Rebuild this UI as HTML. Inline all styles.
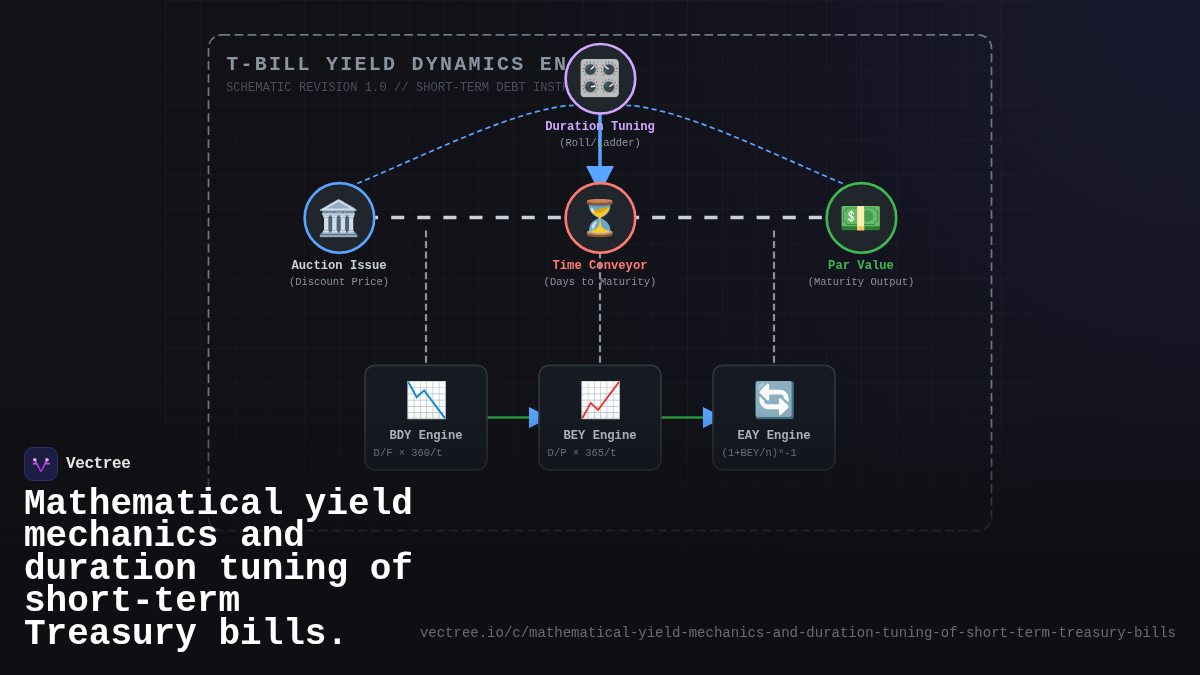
<!DOCTYPE html>
<html><head><meta charset="utf-8">
<style>
html,body{margin:0;padding:0}
body{width:1200px;height:675px;overflow:hidden;position:relative;background:#111116;font-family:"Liberation Mono",monospace}
#glow{position:absolute;inset:0;background:radial-gradient(circle 1100px at 1200px 0px,rgba(80,88,240,0.1000) 0px,rgba(80,88,240,0.0956) 100px,rgba(80,88,240,0.0834) 200px,rgba(80,88,240,0.0665) 300px,rgba(80,88,240,0.0485) 400px,rgba(80,88,240,0.0322) 500px,rgba(80,88,240,0.0196) 600px,rgba(80,88,240,0.0109) 700px,rgba(80,88,240,0.0055) 800px,rgba(80,88,240,0.0026) 900px,rgba(80,88,240,0.0011) 1000px,rgba(80,88,240,0.0004) 1100px)}
#ov{position:absolute;inset:0;background:linear-gradient(to bottom,rgba(15,15,19,0) 410px,rgba(15,15,19,1) 560px)}
#dg{position:absolute;left:165px;top:0;width:1000px;height:650px;transform:scale(0.87);transform-origin:0 0;
 background-image:linear-gradient(to right,rgba(139,148,158,0.05) 1px,transparent 1px),linear-gradient(to bottom,rgba(139,148,158,0.05) 1px,transparent 1px);
 background-size:40px 40px}
#dg svg{position:absolute;left:0;top:0}
.t{position:absolute;white-space:nowrap}
#dg,#title,#brand,#url{will-change:opacity}
.ttl{left:70.35px;top:61.45px;font-size:23px;font-weight:bold;letter-spacing:2.58px;color:#8b949e}
.sub{left:70px;top:92.8px;font-size:14px;color:#484f58}
.node{position:absolute;width:77px;height:77px;border-radius:50%;background:#21262d;border:3px solid;box-sizing:content-box;margin:-41.5px 0 0 -41.5px;display:flex;align-items:center;justify-content:center;font-size:40px;line-height:1}
.node .em{position:relative;top:3.8px}
.lbl{position:absolute;width:300px;margin-left:-150px;text-align:center;font-size:14px;font-weight:bold}
.sl{position:absolute;width:300px;margin-left:-150px;text-align:center;font-size:12px;color:#8b949e}
.box{position:absolute;top:419px;width:138px;height:118px;border:2px solid #30363d;border-radius:12px;background:#161b22}
.box .e{position:absolute;left:1.5px;right:0;top:23px;text-align:center;font-size:40px;line-height:1}
.box .n{position:absolute;left:0;right:0;top:72.1px;text-align:center;font-size:14px;font-weight:bold;color:#c9d1d9}
.box .f{position:absolute;left:8.8px;top:92.7px;font-size:12px;color:#8b949e}
#logo{position:absolute;left:24px;top:447px;width:32px;height:32px;border-radius:9px;background:#1e1e44;border:1px solid #2f2d72}
#brand{position:absolute;left:66px;top:455.3px;font-size:16px;letter-spacing:-0.4px;font-weight:bold;color:#e6e6e6}
#title{position:absolute;left:24px;top:489px;font-size:36px;line-height:32.4px;font-weight:bold;color:#fff;white-space:pre}
#url{position:absolute;right:24px;top:625px;font-size:14px;color:#6b6b75}
</style></head><body>
<div id="glow"></div>
<div id="dg">
<svg width="1000" height="650" viewBox="0 0 1000 650">
 <rect x="50" y="40" width="900" height="570" rx="15" fill="none" stroke="#6e7681" stroke-width="2" stroke-dasharray="10 5"/>
 <path d="M221 211 C309.5 173.4 407.6 124.2 469.5 121" fill="none" stroke="#58a6ff" stroke-width="2" stroke-dasharray="6 4"/>
 <path d="M779 211 C690.5 173.4 592.4 124.2 530.5 121" fill="none" stroke="#58a6ff" stroke-width="2" stroke-dasharray="6 4"/>
 <line x1="200" y1="250" x2="800" y2="250" stroke="#c9d1d9" stroke-width="4" stroke-dasharray="15 15"/>
 <line x1="300" y1="265" x2="300" y2="420" stroke="#8b949e" stroke-width="2.5" stroke-dasharray="8 4"/>
 <line x1="500" y1="265" x2="500" y2="420" stroke="#8b949e" stroke-width="2.5" stroke-dasharray="8 4"/>
 <line x1="700" y1="265" x2="700" y2="420" stroke="#8b949e" stroke-width="2.5" stroke-dasharray="8 4"/>
 <line x1="500" y1="130" x2="500" y2="195" stroke="#58a6ff" stroke-width="4"/>
 <polygon points="483.9,190.8 516.1,190.8 500,222.8" fill="#58a6ff"/>
 <line x1="370" y1="479.8" x2="420" y2="479.8" stroke="#2a9a3f" stroke-width="2.8"/>
 <polygon points="418.3,467.9 418.3,492.1 442.3,480" fill="#58a6ff"/>
 <line x1="570" y1="479.8" x2="620" y2="479.8" stroke="#2a9a3f" stroke-width="2.8"/>
 <polygon points="618.3,467.9 618.3,492.1 642.3,480" fill="#58a6ff"/>
</svg>
<div class="t ttl">T-BILL YIELD DYNAMICS ENGINE</div>
<div class="t sub">SCHEMATIC REVISION 1.0 // SHORT-TERM DEBT INSTRUMENTS</div>

<div class="node" style="left:200px;top:250px;border-color:#58a6ff"><span class="em">🏛️</span></div>
<div class="lbl" style="left:200px;top:297px;color:#c9d1d9">Auction Issue</div>
<div class="sl" style="left:200px;top:318px">(Discount Price)</div>

<div class="node" style="left:500px;top:250px;border-color:#ff7b72"><span class="em">⏳</span></div>
<div class="lbl" style="left:500px;top:297px;color:#ff7b72">Time Conveyor</div>
<div class="sl" style="left:500px;top:318px">(Days to Maturity)</div>

<div class="node" style="left:800px;top:250px;border-color:#3fb950"><span class="em">💵</span></div>
<div class="lbl" style="left:800px;top:297px;color:#3fb950">Par Value</div>
<div class="sl" style="left:800px;top:318px">(Maturity Output)</div>

<div class="node" style="left:500px;top:90px;border-color:#d2a8ff"><span class="em">🎛️</span></div>
<div class="lbl" style="left:500px;top:137px;color:#d2a8ff">Duration Tuning</div>
<div class="sl" style="left:500px;top:158px">(Roll/Ladder)</div>

<div class="box" style="left:229px"><div class="e">📉</div><div class="n">BDY Engine</div><div class="f">D/F × 360/t</div></div>
<div class="box" style="left:429px"><div class="e">📈</div><div class="n">BEY Engine</div><div class="f">D/P × 365/t</div></div>
<div class="box" style="left:629px"><div class="e">🔄</div><div class="n">EAY Engine</div><div class="f">(1+BEY/n)ⁿ-1</div></div>
</div>

<div id="ov"></div>
<div id="logo"><svg width="32" height="32" viewBox="0 0 32 32">
 <defs><linearGradient id="lg" gradientUnits="userSpaceOnUse" x1="0" y1="11" x2="0" y2="24"><stop offset="0" stop-color="#d45ef4"/><stop offset="1" stop-color="#9a2fd4"/></linearGradient></defs>
 <path d="M9.8 11.8 L16 23.7 L22 11.8" fill="none" stroke="url(#lg)" stroke-width="1.5" stroke-linejoin="round"/>
 <path d="M11.9 15.6 L7.8 15.6 M20.1 15.6 L24.7 15.6" stroke="#c84ee8" stroke-width="1.6"/>
 <circle cx="9.8" cy="11.8" r="1.8" fill="#e2a4f4"/><circle cx="22" cy="11.8" r="1.8" fill="#e2a4f4"/>
</svg></div>
<div id="brand">Vectree</div>
<div id="title">Mathematical yield
mechanics and
duration tuning of
short-term
Treasury bills.</div>
<div id="url">vectree.io/c/mathematical-yield-mechanics-and-duration-tuning-of-short-term-treasury-bills</div>
</body></html>
